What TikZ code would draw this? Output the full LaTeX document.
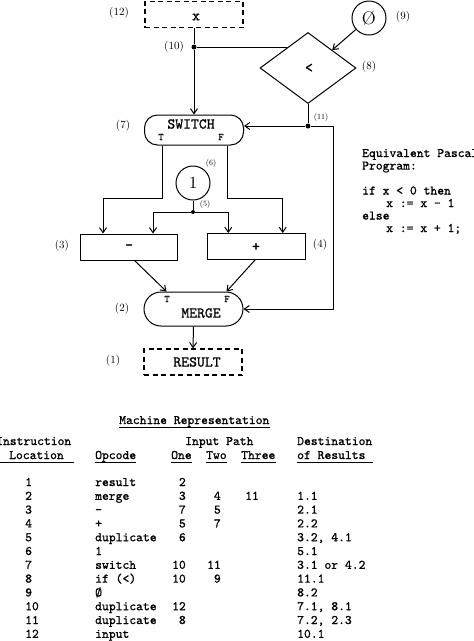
\documentclass[tikz,border=0pt]{standalone}
\usepackage{fontspec}
\usetikzlibrary{shapes.geometric,arrows.meta,calc}
\newfontfamily\tw{lmmono10-regular.otf}[FakeBold=1]
\newfontfamily\hand{lmroman10-regular.otf}
\tikzset{
  ln/.style={line width=1pt},
  arr/.style={ln,-{Straight Barb[length=5pt,width=7pt]}},
  dashbox/.style={draw,dash pattern=on 5pt off 3.5pt,line width=1.3pt,minimum width=98pt,minimum height=26pt,inner sep=0pt},
  opbox/.style={draw,line width=1pt,minimum width=97pt,minimum height=26pt,inner sep=0pt},
  pill/.style={draw,line width=1pt,minimum width=99pt,inner sep=0pt},
  ring/.style={draw,circle,line width=1pt,minimum size=34pt,inner sep=0pt},
  jdot/.style={circle,fill,inner sep=0pt,minimum size=5pt},
  big/.style={font=\tw\fontsize{15}{16}\selectfont,inner sep=0pt},
  sm/.style={font=\tw\fontsize{10}{11}\selectfont,inner sep=0pt},
  txt/.style={font=\tw\fontsize{13}{14}\selectfont,inner sep=0pt},
  lab/.style={font=\hand\fontsize{11}{12}\selectfont,inner sep=0pt},
  slab/.style={font=\hand\fontsize{8}{9}\selectfont,inner sep=0pt},
  uline/.style={line width=0.9pt}
}
\begin{document}
\begin{tikzpicture}[x=1pt,y=-1pt]
\useasboundingbox (0,0) rectangle (474,641);
% ---------- diagram ----------
\node[dashbox] (n12) at (194,14.5) {};
\node[big] (xt) at (196,17) {x};
\node[lab] (l12) at (119,13) {(12)};
\node[jdot] (d10) at (194,47) {};
\node[lab] (l10) at (174,47) {(10)};
\node[draw,diamond,line width=1pt,minimum width=96pt,minimum height=71pt,inner sep=0pt] (dia) at (308,68) {};
\node[big] (lt) at (309,68) {<};
\node[lab] (l8) at (369,67) {(8)};
\node[ring] (c9) at (369,18) {};
\node[font=\hand\fontsize{18}{19}\selectfont,inner sep=0pt] (z9) at (369,18) {Ø};
\node[lab] (l9) at (403,17) {(9)};
\node[jdot] (d11) at (308,126) {};
\node[slab] (l11) at (321,117) {(11)};
\node[pill,rounded corners=13pt,minimum height=30pt] (sw) at (194,130) {};
\node[big] (swt) at (191,124) {SWITCH};
\node[sm] (swT) at (161,137) {T};
\node[sm] (swF) at (221,137) {F};
\node[lab] (l7) at (123,126) {(7)};
\node[ring] (c1) at (193,183) {};
\node[font=\hand\fontsize{17}{18}\selectfont,inner sep=0pt] (one) at (193,183) {1};
\node[slab] (l6) at (211,163) {(6)};
\node[jdot,minimum size=4pt] (d5) at (193,212) {};
\node[slab] (l5) at (205,204) {(5)};
\node[opbox] (bm) at (128.5,247) {};
\node[big] (mt) at (129,247) {-};
\node[lab] (l3) at (62,246) {(3)};
\node[opbox,minimum width=98pt] (bp) at (256,246.5) {};
\node[big] (pt) at (256,247) {+};
\node[lab] (l4) at (320,245) {(4)};
\node[pill,rounded corners=17pt,minimum height=34pt] (mg) at (193.5,309) {};
\node[big] (mgt) at (201,313) {MERGE};
\node[sm] (mgT) at (167,299) {T};
\node[sm] (mgF) at (227,299) {F};
\node[lab] (l2) at (122,309) {(2)};
\node[dashbox] (res) at (193,362) {};
\node[big] (rest) at (197,362) {RESULT};
\node[lab] (l1) at (113,361) {(1)};
% connectors
\coordinate (dhit) at ($(dia.west)!0.57!(dia.north)$);
\draw[ln] (n12) -- (d10);
\draw[arr] (d10) -- (sw.north);
\draw[ln] (d10) -- (d10 -| dhit);
\draw[arr] (c9) -- (dia.north east);
\draw[ln] (dia.south) -- (d11);
\draw[arr] (d11) -- (sw.east |- d11);
\coordinate (rc) at (333,126);
\draw[arr] (d11) -- (rc) |- (mg.east);
\coordinate (swTo) at ($(sw.south)+(-32,0)$);
\coordinate (swFo) at ($(sw.south)+(33,0)$);
\coordinate (bmA) at ($(bm.north west)!0.24!(bm.north east)$);
\coordinate (bmB) at ($(bm.north west)!0.75!(bm.north east)$);
\coordinate (bpA) at ($(bp.north west)!0.22!(bp.north east)$);
\coordinate (bpB) at ($(bp.north west)!0.77!(bp.north east)$);
\draw[arr] (swTo) -- ++(0,53) -| (bmA);
\draw[arr] (swFo) -- ++(0,53) -| (bpB);
\draw[ln] (c1) -- (d5);
\draw[arr] (d5) -| (bmB);
\draw[arr] (d5) -| (bpA);
\draw[arr] ($(bm.south)+(6,0)$) -- ($(mg.north)+(-27,0)$);
\draw[arr] ($(bp.south)+(-1,0)$) -- ($(mg.north)+(33,0)$);
\draw[arr] (mg.south) -- (res.north);
% ---------- Pascal program ----------
\node[txt,anchor=base west] (p1) at (362,157) {Equivalent Pascal};
\node[txt,anchor=base west] (p2) at (362,169.5) {Program:};
\node[txt,anchor=base west] (p3) at (362,194.5) {if x < 0 then};
\node[txt,anchor=base west] (p4) at (386,207) {x := x - 1};
\node[txt,anchor=base west] (p5) at (362,219.5) {else};
\node[txt,anchor=base west] (p6) at (386,232) {x := x + 1;};
% ---------- table ----------
\node[txt,anchor=base west] (h0) at (119,424) {Machine Representation};
\draw[uline] ($(h0.base west)+(0,3)$) -- ($(h0.base east)+(0,3)$);
\node[txt,anchor=base west] (h1) at (-4,445) {Instruction};
\node[txt,anchor=base west] (h2) at (9,459) {Location};
\draw[uline] (0,462) -- (74,462);
\node[txt,anchor=base west] (h3) at (95,459) {Opcode};
\draw[uline] ($(h3.base west)+(0,3)$) -- ($(h3.base east)+(0,3)$);
\node[txt,anchor=base west] (h4) at (185,445) {Input Path};
\node[txt,anchor=base west] (h5) at (171,459) {One};
\draw[uline] ($(h5.base west)+(0,3)$) -- ($(h5.base east)+(0,3)$);
\node[txt,anchor=base west] (h6) at (206,459) {Two};
\draw[uline] ($(h6.base west)+(0,3)$) -- ($(h6.base east)+(0,3)$);
\node[txt,anchor=base west] (h7) at (241,459) {Three};
\draw[uline] ($(h7.base west)+(0,3)$) -- ($(h7.base east)+(0,3)$);
\node[txt,anchor=base west] (h8) at (297,445) {Destination};
\node[txt,anchor=base west] (h9) at (297,459) {of Results};
\draw[uline] (297,462) -- (373,462);
\foreach \loc/\op/\one/\two/\three/\dst [count=\i] in {
  1/result/2/{}/{}/{},
  2/merge/3/4/11/1.1,
  3/-/7/5/{}/2.1,
  4/+/5/7/{}/2.2,
  5/duplicate/6/{}/{}/{3.2, 4.1},
  6/1/{}/{}/{}/5.1,
  7/switch/10/11/{}/{3.1 or 4.2},
  8/{if (<)}/10/9/{}/11.1,
  9/Ø/{}/{}/{}/8.2,
  10/duplicate/12/{}/{}/{7.1, 8.1},
  11/duplicate/8/{}/{}/{7.2, 2.3},
  12/input/{}/{}/{}/10.1}{
  \pgfmathsetmacro{\yy}{486+13.8*(\i-1)}
  \node[txt,anchor=base west] (ra\i) at (25,\yy) {\loc};
  \node[txt,anchor=base west] (rb\i) at (95,\yy) {\op};
  \node[txt,anchor=base east] (rc\i) at (186,\yy) {\one};
  \node[txt,anchor=base east] (rd\i) at (221,\yy) {\two};
  \node[txt,anchor=base west] (re\i) at (245,\yy) {\three};
  \node[txt,anchor=base west] (rf\i) at (297,\yy) {\dst};
}
\end{tikzpicture}
\end{document}
